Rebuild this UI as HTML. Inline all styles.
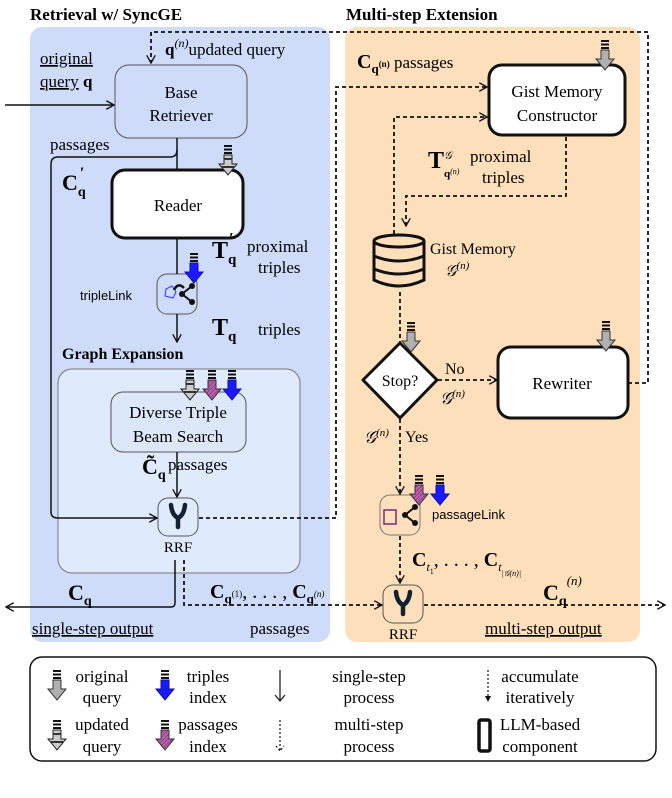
<!DOCTYPE html>
<html><head><meta charset="utf-8"><style>
html,body{margin:0;padding:0;background:#fff;}
svg{display:block;font-family:"Liberation Serif",serif;}
.s{font-family:"Liberation Sans",sans-serif;}
</style></head><body>
<svg width="672" height="798" viewBox="0 0 672 798" xmlns="http://www.w3.org/2000/svg">
<defs>
<pattern id="hatch" width="3" height="3" patternUnits="userSpaceOnUse" patternTransform="rotate(45)">
<rect width="3" height="3" fill="#c060b0"/><line x1="0" y1="0" x2="0" y2="3" stroke="#6a2a6a" stroke-width="1.2"/></pattern>
<g id="st"><rect x="-4" y="-30" width="8" height="2" fill="#111"/><rect x="-4" y="-26.5" width="8" height="2" fill="#111"/><rect x="-4" y="-23" width="8" height="2" fill="#111"/></g>
<g id="qa"><use href="#st"/><path d="M-4,-20 H4 V-11 H9 L0,0 L-9,-11 H-4 Z" fill="#b0b0b0" stroke="#333" stroke-width="1"/></g>
<g id="ua"><use href="#st"/><path d="M-4,-20 H4 V-11 H9 L0,0 L-9,-11 H-4 Z" fill="#ccc" stroke="#222" stroke-width="1"/><rect x="-4" y="-17" width="8" height="2" fill="#333"/><rect x="-6" y="-9" width="12" height="2" fill="#333"/></g>
<g id="ta"><use href="#st"/><path d="M-4,-20 H4 V-11 H9 L0,0 L-9,-11 H-4 Z" fill="#1a1aff" stroke="#1010a0" stroke-width="1"/></g>
<g id="pa"><use href="#st"/><path d="M-4,-20 H4 V-11 H9 L0,0 L-9,-11 H-4 Z" fill="url(#hatch)" stroke="#333" stroke-width="1"/></g>
<g id="share"><circle cx="0" cy="0" r="3" fill="#111"/><circle cx="10" cy="-8" r="3" fill="#111"/><circle cx="10" cy="8" r="3" fill="#111"/><path d="M0,0 L10,-8 M0,0 L10,8" stroke="#111" stroke-width="2"/></g>
<g id="rrf"><path d="M-7,-10 Q-6,0 0,3 Q6,0 7,-10 M0,3 V12" stroke="#123" stroke-width="4.5" fill="none" stroke-linecap="round"/></g>
<marker id="ah" viewBox="0 0 10 10" refX="9" refY="5" markerWidth="9" markerHeight="9" orient="auto" markerUnits="userSpaceOnUse"><path d="M0,0 L9,5 L0,10" fill="none" stroke="#111" stroke-width="1.5"/></marker>
</defs>

<rect x="30" y="27" width="300" height="615" rx="12" fill="#cedcfa"/>
<rect x="345" y="27" width="295" height="615" rx="12" fill="#fde0bb"/>
<text x="30" y="20" font-size="17" font-weight="bold">Retrieval w/ SyncGE</text>
<text x="346" y="20" font-size="17" font-weight="bold">Multi-step Extension</text>

<rect x="58" y="369" width="242" height="204" rx="14" fill="#dfeafd" stroke="#777" stroke-width="1"/>
<text x="62" y="359" font-size="16" font-weight="bold">Graph Expansion</text>

<rect x="115" y="65" width="132" height="73" rx="14" fill="#cedcfa" stroke="#555" stroke-width="1"/>
<text x="181" y="98" font-size="17" text-anchor="middle">Base</text>
<text x="181" y="121" font-size="17" text-anchor="middle">Retriever</text>
<rect x="112" y="170" width="131" height="68" rx="13" fill="#fff" stroke="#111" stroke-width="3"/>
<text x="178" y="211" font-size="17" text-anchor="middle">Reader</text>
<rect x="111" y="392" width="135" height="60" rx="12" fill="#dde7fa" stroke="#555" stroke-width="1"/>
<text x="178" y="418" font-size="17" text-anchor="middle">Diverse Triple</text>
<text x="178" y="442" font-size="17" text-anchor="middle">Beam Search</text>
<rect x="489" y="65" width="136" height="70" rx="13" fill="#fff" stroke="#111" stroke-width="3"/>
<text x="557" y="97" font-size="17" text-anchor="middle">Gist Memory</text>
<text x="557" y="121" font-size="17" text-anchor="middle">Constructor</text>
<rect x="498" y="347" width="130" height="71" rx="13" fill="#fff" stroke="#111" stroke-width="3"/>
<text x="562" y="389" font-size="17" text-anchor="middle">Rewriter</text>
<path d="M400,343 L437,380 L400,418 L363,380 Z" fill="#fff" stroke="#111" stroke-width="3" stroke-linejoin="round"/>
<text x="400" y="386" font-size="16" text-anchor="middle">Stop?</text>
<g fill="none" stroke="#111" stroke-width="3">
<path d="M374,241 V280 Q399,292 424,280 V241"/>
<ellipse cx="399" cy="241" rx="25" ry="6" fill="#fde0bb"/>
<path d="M374,256 Q399,266 424,256 M374,269 Q399,279 424,269"/>
</g>
<text x="430" y="254" font-size="16">Gist Memory</text>
<text x="445" y="276" font-size="16" font-style="italic">𝒢<tspan font-size="11" dy="-7">(n)</tspan></text>

<rect x="157" y="274" width="40" height="40" rx="10" fill="#cedcfa" stroke="#555" stroke-width="1"/>
<polygon points="166,289 172,286 176,292 173,298 165,296" fill="none" stroke="#33f" stroke-width="1"/>
<path d="M174,290 Q178,282 184,288" fill="none" stroke="#111" stroke-width="2.5"/>
<use href="#share" x="182" y="294"/>
<text x="80" y="300" font-size="13" class="s">tripleLink</text>
<rect x="380" y="495" width="40" height="40" rx="10" fill="#fde0bb" stroke="#777" stroke-width="1"/>
<rect x="384" y="510" width="12" height="14" fill="none" stroke="#7a2a7a" stroke-width="1.5"/>
<use href="#share" x="405" y="515"/>
<text x="432" y="519" font-size="13" class="s">passageLink</text>
<rect x="158" y="498" width="40" height="38" rx="10" fill="#dfeafd" stroke="#555" stroke-width="1"/>
<use href="#rrf" x="178" y="515"/>
<text x="178" y="552" font-size="15" text-anchor="middle">RRF</text>
<rect x="383" y="585" width="40" height="38" rx="10" fill="#fde0bb" stroke="#555" stroke-width="1"/>
<use href="#rrf" x="403" y="602"/>
<text x="403" y="639" font-size="15" text-anchor="middle">RRF</text>

<g fill="none" stroke="#111" stroke-width="1.5">
<path d="M5,105 H114" marker-end="url(#ah)"/>
<path d="M177,138 V169"/>
<path d="M177,150 Q177,157 170,157 H58 Q51,157 51,164 V512 Q51,518 58,518 H157" marker-end="url(#ah)"/>
<path d="M177,238 V274"/>
<path d="M177,314 V342" marker-end="url(#ah)"/>
<path d="M177,452 V497" marker-end="url(#ah)"/>
<path d="M175,560 V603 Q175,607 171,607 H6" marker-end="url(#ah)"/>
</g>
<g fill="none" stroke="#111" stroke-width="1.8" stroke-dasharray="4,3">
<path d="M628,383 H648 V32 H151 V63" marker-end="url(#ah)"/>
<path d="M199,518 H336 V87 H487" marker-end="url(#ah)"/>
<path d="M394,234 V117 H487" marker-end="url(#ah)"/>
<path d="M566,137 V196 H406 V226" marker-end="url(#ah)"/>
<path d="M400,292 V342"/>
<path d="M438,380 H497" marker-end="url(#ah)"/>
<path d="M400,419 V494" marker-end="url(#ah)"/>
<path d="M400,536 V583" marker-end="url(#ah)"/>
<path d="M184,560 V605 H382" marker-end="url(#ah)"/>
<path d="M424,605 H665" marker-end="url(#ah)"/>
</g>

<use href="#ua" x="228" y="175"/>
<use href="#qa" x="605" y="70"/>
<use href="#qa" x="411" y="352"/>
<use href="#qa" x="606" y="351"/>
<use href="#ua" x="190" y="400"/>
<use href="#pa" x="212" y="400"/>
<use href="#ta" x="232" y="400"/>
<use href="#pa" x="419" y="505"/>
<use href="#ta" x="440" y="505"/>
<use href="#ta" x="194" y="283"/>

<text x="40" y="64" font-size="17" text-decoration="underline">original</text>
<text x="40" y="87" font-size="17"><tspan text-decoration="underline">query</tspan> <tspan font-weight="bold">q</tspan></text>
<text x="165" y="55" font-size="17"><tspan font-weight="bold">q</tspan><tspan font-size="12" dy="-8" font-style="italic">(n)</tspan><tspan dy="8">updated query</tspan></text>
<text x="50" y="150" font-size="17">passages</text>
<text x="62" y="190" font-size="22" font-weight="bold">C<tspan font-size="14" dy="6">q</tspan></text>
<text x="80" y="178" font-size="16" font-weight="bold">′</text>
<text x="212" y="258" font-size="24" font-weight="bold">T<tspan font-size="15" dy="6">q</tspan></text>
<text x="229" y="244" font-size="17" font-weight="bold">′</text>
<text x="247" y="252" font-size="17">proximal</text>
<text x="258" y="273" font-size="17">triples</text>
<text x="212" y="335" font-size="24" font-weight="bold">T<tspan font-size="15" dy="6">q</tspan></text>
<text x="258" y="335" font-size="17">triples</text>
<text x="142" y="474" font-size="22" font-weight="bold">C̃<tspan font-size="14" dy="5">q</tspan></text>
<text x="168" y="470" font-size="17">passages</text>
<text x="68" y="600" font-size="22" font-weight="bold">C<tspan font-size="14" dy="5">q</tspan></text>
<text x="210" y="598" font-size="20" font-weight="bold">C<tspan font-size="13" dy="5">q</tspan><tspan font-size="9" dy="-6" font-weight="normal">(1)</tspan><tspan dy="1" font-weight="normal">, . . . , </tspan>C<tspan font-size="13" dy="5">q</tspan><tspan font-size="9" dy="-6" font-weight="normal" font-style="italic">(n)</tspan></text>
<text x="250" y="634" font-size="17">passages</text>
<text x="32" y="634" font-size="17" text-decoration="underline">single-step output</text>
<text x="485" y="634" font-size="17" text-decoration="underline">multi-step output</text>
<text x="357" y="68" font-size="20" font-weight="bold">C<tspan font-size="13" dy="5">q</tspan><tspan font-size="9" dy="-6">(n)</tspan><tspan font-size="17" font-weight="normal" dy="1"> passages</tspan></text>
<text x="428" y="168" font-size="24" font-weight="bold">T<tspan font-size="11" dy="9">q</tspan><tspan font-size="8" dy="-3" font-style="italic" font-weight="normal">(n)</tspan></text>
<text x="444" y="159" font-size="11" font-style="italic">𝒢</text>
<text x="470" y="162" font-size="17">proximal</text>
<text x="482" y="183" font-size="17">triples</text>
<text x="445" y="374" font-size="16">No</text>
<text x="440" y="404" font-size="17" font-style="italic">𝒢<tspan font-size="11" dy="-7">(n)</tspan></text>
<text x="364" y="443" font-size="17" font-style="italic">𝒢<tspan font-size="11" dy="-7">(n)</tspan></text>
<text x="405" y="442" font-size="16">Yes</text>
<text x="412" y="566" font-size="20" font-weight="bold">C<tspan font-size="12" dy="5" font-style="italic" font-weight="normal">t</tspan><tspan font-size="8" dy="3" font-weight="normal">1</tspan><tspan font-weight="normal" dy="-8">, . . . , </tspan>C<tspan font-size="12" dy="5" font-style="italic" font-weight="normal">t</tspan><tspan font-size="8" dy="5" font-weight="normal" font-style="italic">|𝒢(n)|</tspan></text>
<text x="543" y="600" font-size="22" font-weight="bold">C<tspan font-size="14" dy="5">q</tspan><tspan font-size="13" dy="-20" font-weight="normal" font-style="italic">(n)</tspan></text>

<rect x="30" y="657" width="626" height="104" rx="12" fill="#fff" stroke="#111" stroke-width="1.5"/>
<use href="#qa" x="57" y="700"/>
<use href="#ua" x="57" y="750"/>
<use href="#ta" x="165" y="700"/>
<use href="#pa" x="165" y="750"/>
<g font-size="17" text-anchor="middle">
<text x="102" y="682">original</text><text x="102" y="703">query</text>
<text x="102" y="730">updated</text><text x="102" y="752">query</text>
<text x="208" y="682">triples</text><text x="208" y="703">index</text>
<text x="208" y="730">passages</text><text x="208" y="752">index</text>
<text x="369" y="682">single-step</text><text x="369" y="703">process</text>
<text x="369" y="730">multi-step</text><text x="369" y="752">process</text>
<text x="540" y="682">accumulate</text><text x="540" y="703">iteratively</text>
<text x="540" y="730">LLM-based</text><text x="540" y="752">component</text>
</g>
<path d="M280,670 V701 M275,695 L280,701 L285,695" fill="none" stroke="#111" stroke-width="1.2"/>
<path d="M280,720 V751 M276,746 L280,751 L284,746" fill="none" stroke="#111" stroke-width="1.2" stroke-dasharray="2,2"/>
<path d="M488,670 V697" stroke="#111" stroke-width="1.2" stroke-dasharray="2,2"/>
<path d="M485,696 L491,696 L488,702 Z" fill="#111"/>
<rect x="479" y="720" width="11" height="31" rx="2" fill="none" stroke="#111" stroke-width="3.5"/>
</svg>
</body></html>
